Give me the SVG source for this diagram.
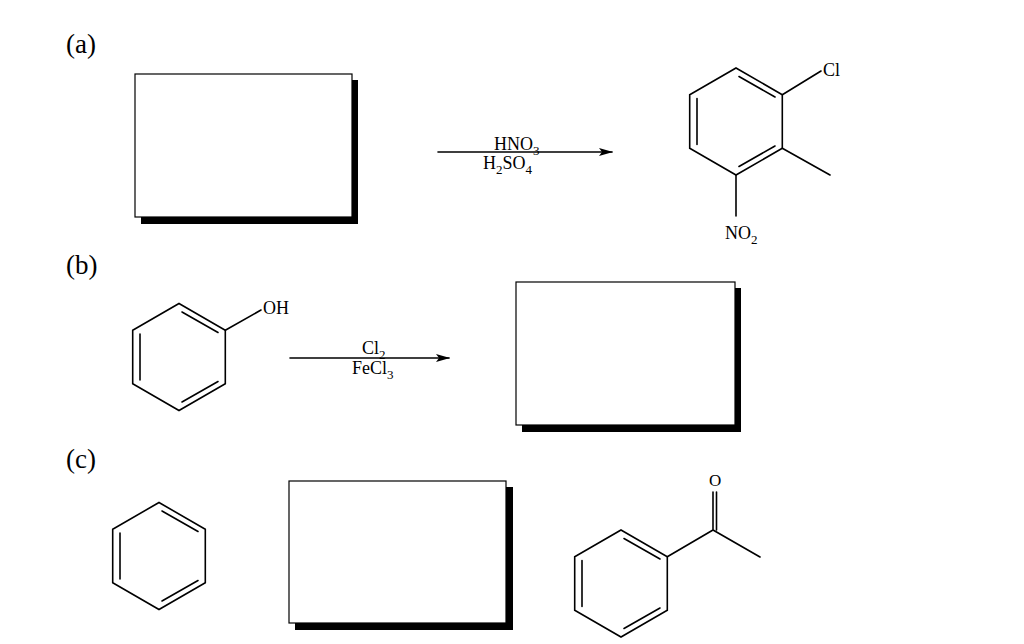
<svg xmlns="http://www.w3.org/2000/svg" width="1024" height="644" viewBox="0 0 1024 644">
<style>
.b{stroke:#000;stroke-width:1.6;fill:none;stroke-linecap:round}
.t{font-family:"Liberation Serif",serif;fill:#000}
.box{fill:#fff;stroke:#000;stroke-width:1.2}
.sh{fill:#000}
</style>
<defs>
<marker id="ah" markerWidth="14" markerHeight="8" refX="13" refY="4" orient="auto" markerUnits="userSpaceOnUse">
<path d="M0,0 L14,4 L0,8 L3,4 Z" fill="#000"/>
</marker>
<g id="ring">
<path class="b" d="M0,-53.5 L46.3,-26.75 L46.3,26.75 L0,53.5 L-46.3,26.75 L-46.3,-26.75 Z"/>
<path class="b" d="M3,-45 L39,-24.5 M-39,-23 L-39,23 M3,45 L39,24.5"/>
</g>
</defs>
<rect width="1024" height="644" fill="#fff"/>
<text class="t" x="66" y="53" font-size="27">(a)</text>
<text class="t" x="66" y="274" font-size="27">(b)</text>
<text class="t" x="66" y="468" font-size="27">(c)</text>
<g id="boxA"><rect class="sh" x="141" y="80" width="217" height="144"/><rect class="box" x="135" y="74" width="217" height="143"/></g>
<g id="boxB"><rect class="sh" x="522" y="288" width="219" height="144"/><rect class="box" x="516" y="282" width="219" height="143"/></g>
<g id="boxC"><rect class="sh" x="295" y="487" width="218" height="143"/><rect class="box" x="289" y="481" width="217" height="142"/></g>
<g id="nitro">
<use href="#ring" x="736" y="121.5"/>
<path class="b" d="M782.3,94.75 L821,71 M782.3,148.25 L830,175 M736,175 L736,216"/>
<text class="t" x="823" y="76" font-size="18">Cl</text>
<text class="t" x="725" y="239" font-size="18">NO<tspan font-size="13" dy="5">2</tspan></text>
</g>
<g id="phenol">
<use href="#ring" x="179" y="357"/>
<path class="b" d="M225.3,330.25 L261,310"/>
<text class="t" x="263" y="314" font-size="18">OH</text>
</g>
<g id="benzene"><use href="#ring" x="159" y="556"/></g>
<g id="acetophenone">
<use href="#ring" x="621" y="583.5"/>
<path class="b" d="M667.3,556.75 L713,530 L760,557 M713,530 L713,492 M716.5,530 L716.5,492" />
<text class="t" x="709" y="486" font-size="17">O</text>
</g>
<g id="connectors">
<line class="b" x1="438" y1="152" x2="612" y2="152" marker-end="url(#ah)"/>
<line class="b" x1="290" y1="358" x2="449" y2="358" marker-end="url(#ah)"/>
</g>
<text class="t" x="494" y="150" font-size="18">HNO<tspan font-size="13" dy="5">3</tspan></text>
<text class="t" x="483" y="169" font-size="18">H<tspan font-size="13" dy="5">2</tspan><tspan dy="-5">SO</tspan><tspan font-size="13" dy="5">4</tspan></text>
<text class="t" x="362" y="354" font-size="18">Cl<tspan font-size="13" dy="5">2</tspan></text>
<text class="t" x="352" y="374" font-size="18">FeCl<tspan font-size="13" dy="5">3</tspan></text>
</svg>
